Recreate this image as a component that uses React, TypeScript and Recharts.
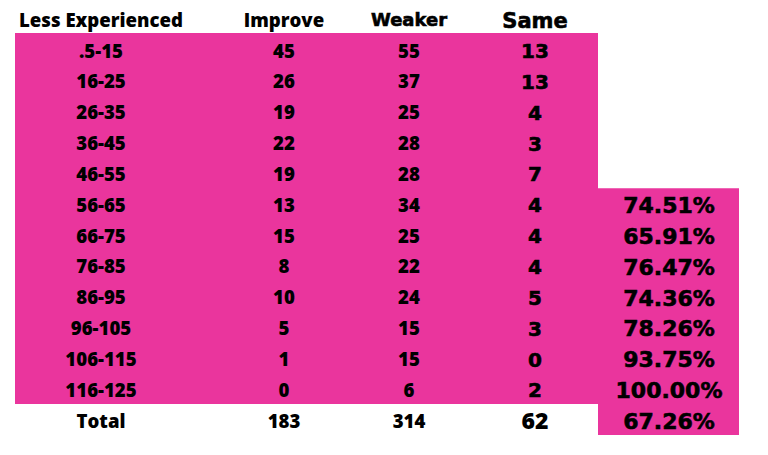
import React from 'react';
import { ScatterChart, Scatter, XAxis, YAxis, ReferenceArea } from 'recharts';

// ---------- data ----------
const headers = ['Less Experienced', 'Improve', 'Weaker', 'Same'];
const ranges = ['.5-15', '16-25', '26-35', '36-45', '46-55', '56-65', '66-75', '76-85', '86-95', '96-105', '106-115', '116-125'];
const improve = [45, 26, 19, 22, 19, 13, 15, 8, 10, 5, 1, 0];
const weaker = [55, 37, 25, 28, 28, 34, 25, 22, 24, 15, 15, 6];
const same = [13, 13, 4, 3, 7, 4, 4, 4, 5, 3, 0, 2];
const percents = ['', '', '', '', '', '74.51%', '65.91%', '76.47%', '74.36%', '78.26%', '93.75%', '100.00%'];
const totalLabel = 'Total';
const totals = [183, 314, 62];
const totalPercent = '67.26%';

// ---------- layout ----------
const W = 768;
const H = 455;
const COL_X = [101, 284, 409, 535, 669];
const ROW0 = 20;
const ROW_H = 30.85;
const Y_DOMAIN: [number, number] = [(0 - ROW0) / ROW_H, (H - ROW0) / ROW_H];
const PINK = '#EA359D';
const CALIBRI = '"Open Sans", Lato, sans-serif';
const VERDANA = '"DejaVu Sans", Verdana, sans-serif';

type Cell = { x: number; y: number; label: string; font: string; size: number; weight: string };

const cellsFor = (col: number, rowLabels: (string | number)[], font: string, size: number, weight: string, rowStart = 1): Cell[] =>
  rowLabels
    .map((v, i) => ({ x: COL_X[col], y: rowStart + i, label: String(v), font, size, weight }))
    .filter((c) => c.label !== '');

const CS = 18.6;
const CW = '800';
const VW = 'bold';
const headerCells: Cell[] = [
  { x: COL_X[0], y: 0, label: headers[0], font: CALIBRI, size: CS, weight: CW },
  { x: COL_X[1], y: 0, label: headers[1], font: CALIBRI, size: CS, weight: CW },
  { x: COL_X[2], y: 0, label: headers[2], font: VERDANA, size: 18, weight: VW },
  { x: COL_X[3], y: 0, label: headers[3], font: VERDANA, size: 21, weight: VW },
];

const col0 = cellsFor(0, ranges, CALIBRI, CS, CW);
const col1 = cellsFor(1, improve, CALIBRI, CS, CW);
const col2 = cellsFor(2, weaker, CALIBRI, CS, CW);
const col3 = cellsFor(3, same, VERDANA, 20, VW);
const col4 = cellsFor(4, percents, VERDANA, 22, VW);
const totalCells: Cell[] = [
  { x: COL_X[0], y: 13, label: totalLabel, font: CALIBRI, size: CS, weight: CW },
  { x: COL_X[1], y: 13, label: String(totals[0]), font: CALIBRI, size: CS, weight: CW },
  { x: COL_X[2], y: 13, label: String(totals[1]), font: CALIBRI, size: CS, weight: CW },
  { x: COL_X[3], y: 13, label: String(totals[2]), font: CALIBRI, size: 23, weight: CW },
  { x: COL_X[4], y: 13, label: totalPercent, font: VERDANA, size: 22, weight: VW },
];

const TextShape = (props: any) => {
  const { cx, cy, payload } = props;
  const heavy = payload.font === VERDANA;
  return (
    <text
      x={cx}
      y={cy}
      dy="0.36em"
      textAnchor="middle"
      style={{ fontFamily: payload.font, fontSize: payload.size, fontWeight: payload.weight }}
      fill="#000"
      stroke={heavy ? '#000' : 'none'}
      strokeWidth={heavy ? 0.6 : 0}
    >
      {payload.label}
    </text>
  );
};

const series = [headerCells, col0, col1, col2, col3, col4, totalCells];

export default function App() {
  return (
    <div style={{ width: W, height: H, background: '#fff' }}>
      <style>{'body{margin:0;background:#fff}'}</style>
      <ScatterChart width={W} height={H} margin={{ top: 0, right: 0, bottom: 0, left: 0 }}>
        <XAxis type="number" dataKey="x" domain={[0, W]} hide />
        <YAxis type="number" dataKey="y" domain={Y_DOMAIN} reversed hide />
        <ReferenceArea x1={15} x2={598} y1={0.42} y2={12.45} fill={PINK} fillOpacity={1} stroke="none" ifOverflow="visible" />
        <ReferenceArea x1={598} x2={739} y1={5.45} y2={13.45} fill={PINK} fillOpacity={1} stroke="none" ifOverflow="visible" />
        {series.map((d, i) => (
          <Scatter key={i} data={d} shape={TextShape} isAnimationActive={false} />
        ))}
      </ScatterChart>
    </div>
  );
}
